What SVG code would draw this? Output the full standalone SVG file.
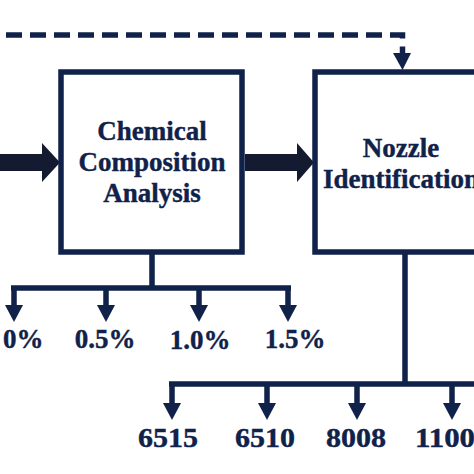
<svg xmlns="http://www.w3.org/2000/svg" width="474" height="474" viewBox="0 0 474 474">
<style>
.box{fill:#ffffff;stroke:#10214a;stroke-width:5.5}
.ln{fill:none;stroke:#10214a;stroke-width:5.5}
.hd{fill:#10214a}
.big{fill:#141b30}
.t{font-family:"Liberation Serif","Times New Roman",serif;font-weight:bold;font-size:27px;fill:#10214a;stroke:#10214a;stroke-width:0.4;text-anchor:middle}
</style>
<rect width="474" height="474" fill="#ffffff"/>
<g id="connectors">
<path class="ln" d="M6,35 H402.5 V53" stroke-dasharray="16 8"/>
<polygon class="hd" points="393,53 411,53 402.5,70"/>
<polygon class="big" points="0,154 42,154 42,143 60,162.5 42,182 42,171 0,171"/>
<polygon class="big" points="245,154 297,154 297,143 314,162.5 297,182 297,171 245,171"/>
<path class="ln" d="M152,254 V288 M11,288 H291 M14,288 V306 M106,288 V306 M199,288 V306 M288,288 V306"/>
<polygon class="hd" points="5,305 23,305 14,322"/>
<polygon class="hd" points="97,305 115,305 106,322"/>
<polygon class="hd" points="190,305 208,305 199,322"/>
<polygon class="hd" points="279,305 297,305 288,322"/>
<path class="ln" d="M405,254 V384 M169,384 H480 M172,384 V404 M267,384 V404 M357,384 V404 M452,384 V404"/>
<polygon class="hd" points="163,403 181,403 172,420"/>
<polygon class="hd" points="258,403 276,403 267,420"/>
<polygon class="hd" points="348,403 366,403 357,420"/>
<polygon class="hd" points="443,403 461,403 452,420"/>
</g>
<g id="chemical">
<rect class="box" x="61" y="72" width="181" height="180"/>
<text class="t" x="152" y="140">Chemical</text>
<text class="t" x="152" y="171">Composition</text>
<text class="t" x="152" y="202">Analysis</text>
</g>
<g id="nozzle">
<rect class="box" x="315" y="72" width="181" height="180"/>
<text class="t" x="401" y="157">Nozzle</text>
<text class="t" x="401" y="188">Identification</text>
</g>
<g id="labels-composition">
<text class="t" x="3" y="348" style="text-anchor:start">0%</text>
<text class="t" x="105" y="348">0.5%</text>
<text class="t" x="200" y="349">1.0%</text>
<text class="t" x="295" y="348">1.5%</text>
</g>
<g id="labels-nozzle">
<text class="t" x="138" y="447" style="text-anchor:start" textLength="60" lengthAdjust="spacingAndGlyphs">6515</text>
<text class="t" x="235" y="447" style="text-anchor:start" textLength="60" lengthAdjust="spacingAndGlyphs">6510</text>
<text class="t" x="326" y="447" style="text-anchor:start" textLength="60" lengthAdjust="spacingAndGlyphs">8008</text>
<text class="t" x="415" y="447" style="text-anchor:start" textLength="60" lengthAdjust="spacingAndGlyphs">1100</text>
</g>
</svg>
